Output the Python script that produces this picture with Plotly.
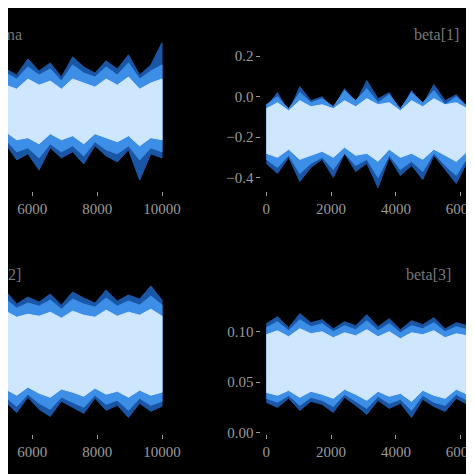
import numpy as np
import plotly.graph_objects as go

titles = ["gamma", "beta[1]", "beta[2]", "beta[3]"]
colors = ["#1a56a6", "#3d8ee6", "#cfe6ff"]

# each chain: alternating upper/lower extremes of the trace band
gamma = [
 [1.22,0.80,1.26,0.76,1.18,0.83,1.30,0.72,1.21,0.79,1.25,0.84,1.17,0.74,1.28,0.81,1.20,0.77,1.24,0.70,1.19,0.82,1.27,0.78,1.16,0.75,1.23,0.80,1.29,0.73,1.21,0.84,1.18,0.76,1.26,0.79,1.20,0.71,1.24,0.82,1.17,0.77,1.27,0.80,1.22,0.74,1.19,0.83,1.25,0.78,1.21,0.75,1.28,0.81,1.18,0.66,1.23,0.79,1.34,0.77],
 [1.19,0.84,1.23,0.79,1.16,0.86,1.25,0.77,1.20,0.82,1.22,0.86,1.15,0.78,1.24,0.83,1.18,0.80,1.21,0.76,1.17,0.85,1.23,0.81,1.14,0.79,1.20,0.83,1.24,0.77,1.19,0.86,1.16,0.80,1.22,0.82,1.18,0.77,1.21,0.84,1.15,0.80,1.23,0.83,1.19,0.78,1.17,0.85,1.22,0.81,1.18,0.79,1.24,0.83,1.16,0.76,1.20,0.82,1.23,0.80],
 [1.14,0.88,1.16,0.85,1.12,0.89,1.17,0.84,1.15,0.87,1.16,0.90,1.11,0.85,1.17,0.88,1.13,0.86,1.15,0.83,1.12,0.89,1.16,0.87,1.10,0.85,1.14,0.88,1.17,0.84,1.13,0.90,1.11,0.86,1.16,0.87,1.13,0.84,1.15,0.89,1.11,0.86,1.16,0.88,1.14,0.84,1.12,0.89,1.16,0.87,1.13,0.85,1.17,0.88,1.11,0.83,1.14,0.87,1.16,0.86],
]
beta1 = [
 [-0.05,-0.33,0.02,-0.38,-0.08,-0.30,0.05,-0.42,-0.02,-0.35,0.00,-0.31,-0.06,-0.40,0.04,-0.28,-0.03,-0.37,0.08,-0.33,-0.01,-0.45,0.02,-0.30,-0.07,-0.39,0.03,-0.34,-0.04,-0.41,0.06,-0.29,-0.02,-0.36,0.01,-0.43,-0.05,-0.32,0.04,-0.38,-0.03,-0.35,0.07,-0.31,-0.06,-0.40,0.02,-0.33,-0.01,-0.37,0.03,-0.44,-0.04,-0.30,0.05,-0.36,-0.02,-0.39,0.01,-0.34],
 [-0.04,-0.31,0.00,-0.35,-0.06,-0.29,0.02,-0.38,-0.03,-0.33,-0.01,-0.30,-0.05,-0.36,0.03,-0.28,-0.02,-0.34,0.04,-0.31,-0.03,-0.40,0.01,-0.29,-0.06,-0.36,0.02,-0.32,-0.03,-0.37,0.03,-0.28,-0.04,-0.34,0.00,-0.39,-0.05,-0.30,0.02,-0.35,-0.02,-0.33,0.04,-0.29,-0.05,-0.37,0.01,-0.31,-0.02,-0.34,0.02,-0.38,-0.03,-0.29,0.03,-0.34,-0.03,-0.36,0.00,-0.32],
 [-0.06,-0.28,-0.03,-0.30,-0.07,-0.26,-0.02,-0.31,-0.05,-0.29,-0.04,-0.27,-0.06,-0.30,-0.02,-0.25,-0.05,-0.29,-0.01,-0.28,-0.04,-0.32,-0.03,-0.26,-0.07,-0.30,-0.02,-0.28,-0.05,-0.31,-0.01,-0.26,-0.04,-0.29,-0.03,-0.32,-0.06,-0.27,-0.02,-0.30,-0.04,-0.28,-0.01,-0.26,-0.06,-0.31,-0.03,-0.28,-0.04,-0.29,-0.02,-0.32,-0.05,-0.26,-0.01,-0.29,-0.04,-0.30,-0.03,-0.28],
]
beta2 = [
 [0.255,0.150,0.262,0.142,0.250,0.155,0.258,0.138,0.252,0.148,0.260,0.152,0.247,0.140,0.256,0.157,0.251,0.145,0.259,0.135,0.249,0.150,0.263,0.143,0.246,0.153,0.257,0.139,0.253,0.147,0.261,0.151,0.248,0.141,0.255,0.156,0.250,0.144,0.258,0.137,0.247,0.152,0.260,0.146,0.254,0.140,0.249,0.155,0.262,0.143,0.251,0.148,0.257,0.136,0.253,0.150,0.266,0.142,0.252,0.147],
 [0.248,0.155,0.254,0.148,0.245,0.158,0.251,0.145,0.247,0.153,0.252,0.157,0.243,0.147,0.250,0.160,0.246,0.151,0.253,0.143,0.244,0.155,0.255,0.149,0.242,0.157,0.250,0.146,0.248,0.152,0.253,0.156,0.244,0.147,0.249,0.159,0.246,0.150,0.252,0.144,0.243,0.156,0.253,0.151,0.248,0.146,0.245,0.158,0.254,0.149,0.246,0.153,0.251,0.143,0.247,0.155,0.256,0.148,0.247,0.152],
 [0.238,0.163,0.242,0.159,0.236,0.165,0.240,0.157,0.237,0.162,0.241,0.164,0.235,0.158,0.239,0.166,0.236,0.161,0.241,0.156,0.235,0.163,0.242,0.159,0.234,0.165,0.239,0.157,0.237,0.161,0.241,0.164,0.235,0.158,0.238,0.166,0.236,0.160,0.240,0.156,0.234,0.164,0.241,0.161,0.237,0.157,0.235,0.165,0.242,0.159,0.236,0.162,0.240,0.156,0.237,0.163,0.243,0.158,0.236,0.161],
]
beta3 = [
 [0.108,0.030,0.115,0.025,0.104,0.034,0.118,0.022,0.109,0.031,0.112,0.028,0.103,0.020,0.110,0.035,0.106,0.027,0.117,0.018,0.105,0.032,0.113,0.024,0.102,0.029,0.111,0.015,0.107,0.033,0.114,0.026,0.103,0.021,0.109,0.034,0.106,0.028,0.116,0.023,0.104,0.031,0.112,0.025,0.108,0.019,0.105,0.033,0.115,0.027,0.103,0.030,0.110,0.022,0.107,0.034,0.113,0.026,0.104,0.029],
 [0.104,0.034,0.110,0.030,0.101,0.037,0.112,0.027,0.105,0.035,0.108,0.032,0.100,0.026,0.106,0.038,0.102,0.031,0.111,0.024,0.101,0.036,0.108,0.029,0.099,0.033,0.106,0.022,0.103,0.037,0.109,0.030,0.100,0.027,0.105,0.038,0.102,0.032,0.110,0.028,0.100,0.035,0.107,0.029,0.104,0.025,0.101,0.037,0.110,0.031,0.099,0.034,0.106,0.027,0.103,0.038,0.108,0.030,0.100,0.033],
 [0.097,0.040,0.101,0.037,0.095,0.042,0.103,0.035,0.098,0.041,0.100,0.038,0.094,0.034,0.099,0.043,0.096,0.038,0.102,0.032,0.095,0.041,0.100,0.036,0.093,0.039,0.099,0.031,0.097,0.042,0.101,0.037,0.094,0.034,0.098,0.043,0.096,0.038,0.102,0.035,0.094,0.041,0.100,0.036,0.097,0.033,0.095,0.042,0.101,0.037,0.093,0.040,0.099,0.034,0.096,0.042,0.100,0.037,0.094,0.039],
]
iterations_max = 10000

panels = [gamma, beta1, beta2, beta3]
xaxes = ["x", "x2", "x3", "x4"]
yaxes = ["y", "y2", "y3", "y4"]

fig = go.Figure()
for p, chains in enumerate(panels):
    for c, vals in enumerate(chains):
        upper = vals[0::2]
        lower = vals[1::2]
        xu = np.linspace(0, iterations_max, len(upper))
        xl = np.linspace(0, iterations_max, len(lower))
        xs = list(xu) + list(xl[::-1])
        ys = list(upper) + list(lower[::-1])
        fig.add_trace(go.Scatter(x=xs, y=ys, mode="lines", fill="toself",
                                 fillcolor=colors[c],
                                 line=dict(color=colors[c], width=1),
                                 xaxis=xaxes[p], yaxis=yaxes[p], showlegend=False))

W = 474.0
font = dict(family="Liberation Serif", size=15, color="#9a9a9a")
axcommon = dict(showgrid=False, zeroline=False, showline=False,
                ticklen=4, tickcolor="#9a9a9a", tickfont=font)
ltop = [1 - 186 / W, 1 - 35 / W]
lbot = [1 - 432 / W, 1 - 280 / W]
left = [0, 165 / W]
right = [260 / W, 1]
fig.update_layout(
    width=474, height=474, paper_bgcolor="black", plot_bgcolor="black",
    margin=dict(l=0, r=0, t=0, b=0),
    xaxis=dict(domain=left, range=[5248, 10210], anchor="y", tickvals=[6000, 8000, 10000], tickformat="d", ticks="outside", **axcommon),
    yaxis=dict(domain=ltop, range=[0.605, 1.341], anchor="x", showticklabels=False, ticks="", **axcommon),
    xaxis2=dict(domain=right, range=[-150, 6286], anchor="y2", tickvals=[0, 2000, 4000, 6000], tickformat="d", ticks="outside", **axcommon),
    yaxis2=dict(domain=ltop, range=[-0.468, 0.268], anchor="x2", tickvals=[-0.4, -0.2, 0.0, 0.2], tickformat=".1f", ticks="outside", **axcommon),
    xaxis3=dict(domain=left, range=[5248, 10210], anchor="y3", tickvals=[6000, 8000, 10000], tickformat="d", ticks="outside", **axcommon),
    yaxis3=dict(domain=lbot, range=[0.120, 0.268], anchor="x3", showticklabels=False, ticks="", **axcommon),
    xaxis4=dict(domain=right, range=[0.0, 0.1485], anchor="y4", tickvals=[0, 2000, 4000, 6000], tickformat="d", ticks="outside", **axcommon) if False else dict(domain=right, range=[-150, 6286], anchor="y4", tickvals=[0, 2000, 4000, 6000], tickformat="d", ticks="outside", **axcommon),
    yaxis4=dict(domain=lbot, range=[-0.001, 0.1475], anchor="x4", tickvals=[0.0, 0.05, 0.10], tickformat=".2f", ticks="outside", **axcommon),
)
tfont = dict(family="Liberation Serif", size=16, color="#777777")
centers = [(-10, 27), (440, 27), (-10, 270), (431, 270)]
for t, (cx, cy) in zip(titles, centers):
    fig.add_annotation(text=t, x=cx / W, y=1 - cy / W, xref="paper", yref="paper",
                       showarrow=False, font=tfont, xanchor="center", yanchor="middle")
fig.write_html("out.html")
